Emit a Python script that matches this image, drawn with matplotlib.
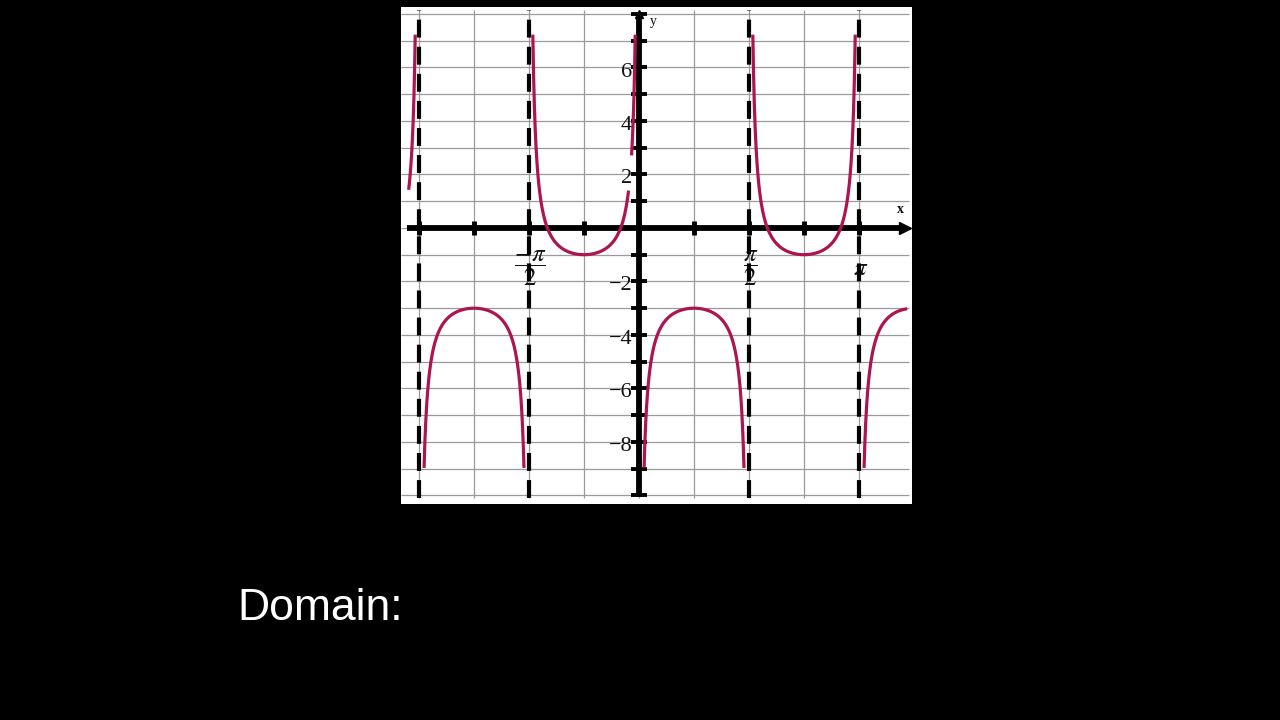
import numpy as np
import matplotlib
matplotlib.use('Agg')
import matplotlib.pyplot as plt

plt.rcParams['mathtext.fontset'] = 'stix'

# Graph of y = amp * csc(freq * x) + shift
amp = -1.0
freq = 2.0
shift = -2.0

asymptotes = [-np.pi, -np.pi / 2, np.pi / 2, np.pi]
branch_edges = [-np.pi * 1.5, -np.pi, -np.pi / 2, 0.0, np.pi / 2, np.pi, np.pi * 1.5]
x_grid = [k * np.pi / 4 for k in range(-4, 5)]
y_grid = list(range(-10, 9))
y_tick_values = [6, 4, 2, -2, -4, -6, -8]
y_tick_labels = ['6', '4', '2', '\u22122', '\u22124', '\u22126', '\u22128']
x_tick_values = [-np.pi / 2, np.pi / 2, np.pi]
x_tick_labels = [r'$\dfrac{-\pi}{2}$', r'$\dfrac{\pi}{2}$', r'$\pi$']
curve_top = 7.25
curve_bottom = -9.0
curve_gap = (1.4, 2.7)      # small break in the drawn curve just left of x = 0
x_start, x_end = -3.29, 3.83

CURVE = '#AD1550'
GRID = '#9a9a9a'

fig = plt.figure(figsize=(12.8, 7.2), dpi=100, facecolor='black')
ax = fig.add_axes([401 / 1280, (720 - 504) / 720, 511 / 1280, 497 / 720])
ax.set_facecolor('white')
ax.set_xlim(-3.399, 3.898)
ax.set_ylim(-10.32, 8.26)
for s in ax.spines.values():
    s.set_visible(False)
ax.set_xticks([])
ax.set_yticks([])

# grid
ax.vlines(x_grid, -10.1, 8.15, color=GRID, lw=0.9, zorder=1)
ax.hlines(y_grid, -3.40, 3.86, color=GRID, lw=0.9, zorder=1)

# axes
ax.plot([x_start - 0.03, 3.78], [0, 0], color='black', lw=4.2, zorder=4,
        solid_capstyle='butt')
ax.plot([3.80], [0], marker='>', ms=9, color='black', zorder=4)
ax.plot([0, 0], [-10.05, 7.95], color='black', lw=4.2, zorder=4,
        solid_capstyle='butt')
ax.plot([0], [8.0], marker='^', ms=6, color='black', zorder=4)
ax.plot([0] * len(y_grid), y_grid, ls='none', marker='_', ms=11, mew=2.8,
        color='black', zorder=4)
ax.plot(x_grid, [0] * len(x_grid), ls='none', marker='|', ms=10, mew=3.5,
        color='black', zorder=4)

# curve
for lo, hi in zip(branch_edges[:-1], branch_edges[1:]):
    xs = np.linspace(lo + 1e-4, hi - 1e-4, 4000)
    ys = amp / np.sin(freq * xs) + shift
    mask = (ys > curve_top) | (ys < curve_bottom) | (xs < x_start) | (xs > x_end)
    mask |= (xs < 0) & (xs > -0.3) & (ys > curve_gap[0]) & (ys < curve_gap[1])
    ys = np.where(mask, np.nan, ys)
    ax.plot(xs, ys, color=CURVE, lw=2.3, zorder=5, solid_capstyle='butt')

# tick labels
for v, t in zip(y_tick_values, y_tick_labels):
    ax.text(-0.10, v - 0.17, t, ha='right', va='center', fontsize=16,
            family='Liberation Serif', color='#111111', zorder=6)
for v, t in zip(x_tick_values, x_tick_labels):
    ax.text(v + 0.02, -1.5, t, ha='center', va='center', fontsize=18,
            color='#111111', zorder=6)
ax.text(0.2, 7.7, 'y', ha='center', va='center', fontsize=10,
        family='Liberation Serif', color='#111111')
ax.text(3.73, 0.68, 'x', ha='center', va='center', fontsize=10,
        family='Liberation Serif', color='#111111', weight='bold')

# asymptotes (drawn over the labels, as in the original)
ax.vlines(asymptotes, -10.1, 8.15, color='black', lw=3.0,
          linestyles=[(0, (4.3, 2.2))], zorder=7)

fig.text(237 / 1280, 1 - 609 / 720, 'Domain:', color='white', fontsize=32,
         family='Liberation Sans', ha='left', va='center')

fig.savefig('out.png', dpi=100, facecolor='black')
